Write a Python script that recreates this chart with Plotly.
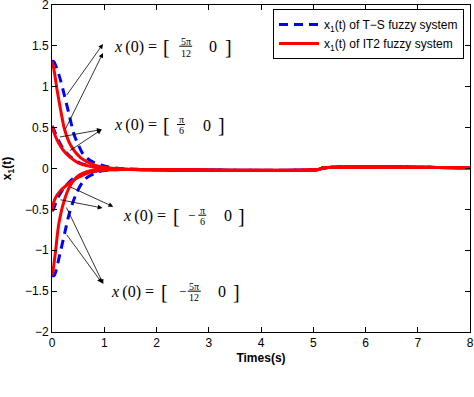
import plotly.graph_objects as go

# ---------------- data ----------------
t_ts_p512 = [0, 0.03, 0.14, 0.235, 0.32, 0.42, 0.49, 0.60, 0.75, 1.0, 1.3, 1.8, 5.1, 5.2, 8]
x_ts_p512 = [1.31, 1.31, 1.13, 0.90, 0.68, 0.42, 0.31, 0.17, 0.09, 0.03, 0.0, -0.012, -0.012, 0.008, 0.008]

t_ts_p6 = [0, 0.025, 0.12, 0.22, 0.34, 0.53, 0.79, 1.1, 1.6, 5.1, 5.2, 8]
x_ts_p6 = [0.52, 0.49, 0.35, 0.235, 0.15, 0.07, 0.025, 0.0, -0.012, -0.012, 0.008, 0.008]

t_ts_m6 = [0, 0.025, 0.12, 0.25, 0.41, 0.63, 0.95, 1.4, 5.1, 5.2, 8]
x_ts_m6 = [-0.52, -0.50, -0.345, -0.22, -0.12, -0.06, -0.02, -0.012, -0.012, 0.008, 0.008]

t_ts_m512 = [0, 0.04, 0.15, 0.25, 0.34, 0.47, 0.63, 0.89, 1.2, 1.8, 5.1, 5.2, 8]
x_ts_m512 = [-1.31, -1.31, -1.05, -0.77, -0.53, -0.30, -0.13, -0.04, -0.015, -0.012, -0.012, 0.008, 0.008]

t_it2_p512 = [0, 0.04, 0.10, 0.17, 0.24, 0.36, 0.55, 0.80, 1.2, 1.6, 5.1, 5.2, 8]
x_it2_p512 = [1.31, 1.20, 0.95, 0.70, 0.48, 0.28, 0.13, 0.045, 0.0, -0.012, -0.012, 0.008, 0.008]

t_it2_p6 = [0, 0.05, 0.12, 0.22, 0.35, 0.50, 0.70, 1.0, 1.5, 5.1, 5.2, 8]
x_it2_p6 = [0.52, 0.42, 0.32, 0.22, 0.135, 0.07, 0.03, 0.0, -0.012, -0.012, 0.008, 0.008]

t_it2_m6 = [0, 0.05, 0.15, 0.31, 0.50, 0.76, 1.1, 1.5, 5.1, 5.2, 8]
x_it2_m6 = [-0.52, -0.38, -0.28, -0.19, -0.11, -0.04, -0.015, -0.012, -0.012, 0.008, 0.008]

t_it2_m512 = [0, 0.02, 0.07, 0.13, 0.23, 0.34, 0.50, 0.76, 1.2, 5.1, 5.2, 8]
x_it2_m512 = [-1.31, -1.25, -1.0, -0.68, -0.40, -0.22, -0.09, -0.025, -0.012, -0.012, 0.008, 0.008]

ts_series = [(t_ts_p512, x_ts_p512), (t_ts_p6, x_ts_p6), (t_ts_m6, x_ts_m6), (t_ts_m512, x_ts_m512)]
it2_series = [(t_it2_p512, x_it2_p512), (t_it2_p6, x_it2_p6), (t_it2_m6, x_it2_m6), (t_it2_m512, x_it2_m512)]

legend_ts = "x<sub>1</sub>(t) of T\u2212S fuzzy system"
legend_it2 = "x<sub>1</sub>(t) of IT2 fuzzy system"
x_ticks = [0, 1, 2, 3, 4, 5, 6, 7, 8]
y_ticks = [-2, -1.5, -1, -0.5, 0, 0.5, 1, 1.5, 2]

# labels: (sign, numerator, denominator)
labels = [("", "5\u03c0", "12"), ("", "\u03c0", "6"), ("\u2212", "\u03c0", "6"), ("\u2212", "5\u03c0", "12")]

# ---------------- layout helpers (pixel -> data) ----------------
W, H = 474, 397
L, R, T, B = 52, 470, 5, 332
XMIN, XMAX, YMIN, YMAX = 0, 8, -2, 2


def px(p):
    return XMIN + (p - L) / (R - L) * (XMAX - XMIN)


def py(p):
    return YMAX - (p - T) / (B - T) * (YMAX - YMIN)


fig = go.Figure()

for i, (tt, xx) in enumerate(ts_series):
    fig.add_trace(go.Scatter(x=tt, y=xx, mode="lines", name=legend_ts, showlegend=(i == 0),
                             line=dict(color="#0000ff", width=3, dash="9px,6px", shape="spline", smoothing=0.8)))
for i, (tt, xx) in enumerate(it2_series):
    fig.add_trace(go.Scatter(x=tt, y=xx, mode="lines", name=legend_it2, showlegend=(i == 0),
                             line=dict(color="#ff0000", width=3, shape="spline", smoothing=0.8)))

annotations = []
shapes = []

# arrows (tail pixel -> head pixel)
arrows = [((65.7, 96.5), (103, 44)), ((64.7, 130.5), (103, 53)),
          ((58.3, 137.3), (101.7, 129.5)), ((68.3, 151.7), (101.7, 129.5)),
          ((69, 186.3), (113.3, 206.7)), ((59, 199.5), (102.5, 208)),
          ((65.7, 206), (103.3, 284)), ((65.7, 233.3), (102, 283))]
for (tx, ty), (hx, hy) in arrows:
    annotations.append(dict(x=px(hx), y=py(hy), ax=px(tx), ay=py(ty), xref="x", yref="y",
                            axref="x", ayref="y", text="", showarrow=True, arrowhead=2,
                            arrowsize=1.2, arrowwidth=0.8, arrowcolor="black", standoff=0, startstandoff=0))

# label layout: start x, center y, bracket x, sign x, frac x, num y, den y, zero x, close x, bar half width
label_pos = [
    (112, 46.7, 166, None, 185.7, 41, 53.3, 213.3, 228.3, 6.5),
    (112, 125, 166, None, 181, 119.3, 130.5, 206.7, 221.7, 4),
    (121, 215.7, 176, 191.7, 202.3, 210, 221.7, 227.7, 241.7, 4),
    (109, 291.7, 164.5, 182.3, 194.3, 286, 297, 221.7, 236.7, 6.5),
]
serif = "Liberation Serif"
for (sign, num, den), (sx, cy, bx, sgx, fx, ny, dy, zx, cx, hw) in zip(labels, label_pos):
    annotations.append(dict(x=px(sx), y=py(cy), xref="x", yref="y", xanchor="left", yanchor="middle",
                            text="<i>x</i>\u2009(0) = ", showarrow=False,
                            font=dict(family=serif, size=16, color="black")))
    annotations.append(dict(x=px(bx), y=py(cy), xref="x", yref="y", xanchor="center", yanchor="middle",
                            text="[", showarrow=False, font=dict(family=serif, size=20, color="black")))
    annotations.append(dict(x=px(cx), y=py(cy), xref="x", yref="y", xanchor="center", yanchor="middle",
                            text="]", showarrow=False, font=dict(family=serif, size=20, color="black")))
    if sign:
        annotations.append(dict(x=px(sgx), y=py(cy), xref="x", yref="y", xanchor="center", yanchor="middle",
                                text=sign, showarrow=False, font=dict(family=serif, size=13, color="black")))
    annotations.append(dict(x=px(fx), y=py(ny), xref="x", yref="y", xanchor="center", yanchor="middle",
                            text=num, showarrow=False, font=dict(family=serif, size=10, color="black")))
    annotations.append(dict(x=px(fx), y=py(dy), xref="x", yref="y", xanchor="center", yanchor="middle",
                            text=den, showarrow=False, font=dict(family=serif, size=10, color="black")))
    annotations.append(dict(x=px(zx), y=py(cy), xref="x", yref="y", xanchor="center", yanchor="middle",
                            text="0", showarrow=False, font=dict(family=serif, size=16, color="black")))
    shapes.append(dict(type="line", xref="x", yref="y", x0=px(fx - hw), x1=px(fx + hw),
                       y0=py(cy - 0.5), y1=py(cy - 0.5), line=dict(color="black", width=1)))

axis_common = dict(showline=True, linecolor="black", linewidth=1, mirror="ticks", ticks="inside",
                   ticklen=5, tickcolor="black", showgrid=False, zeroline=False,
                   ticklabeloverflow="allow",
                   tickfont=dict(family="Liberation Sans", size=12, color="black"))

fig.update_layout(
    width=W, height=H,
    margin=dict(l=L, r=W - R, t=T, b=H - B, autoexpand=False),
    paper_bgcolor="white", plot_bgcolor="white",
    xaxis=dict(range=[XMIN, XMAX], tickvals=x_ticks, **axis_common,
               title=dict(text="<b>Times(s)</b>", standoff=4,
                          font=dict(family="Liberation Sans", size=12, color="black"))),
    yaxis=dict(range=[YMIN, YMAX], tickvals=y_ticks, **axis_common,
               title=dict(text="<b>x<sub>1</sub>(t)</b>", standoff=12,
                          font=dict(family="Liberation Sans", size=12, color="black"))),
    legend=dict(x=px(464) / XMAX, y=1 - (9 - T) / (B - T), xanchor="right", yanchor="top",
                bordercolor="black", borderwidth=1, bgcolor="white",
                font=dict(family="Liberation Sans", size=12, color="black"),
                tracegroupgap=0, itemwidth=40),
    annotations=annotations,
    shapes=shapes,
    showlegend=True,
)

fig.write_html("out.html", config={"displayModeBar": False},
               post_script="document.body.style.margin='0';document.body.style.padding='0';"
                           "document.body.style.overflow='hidden';")
